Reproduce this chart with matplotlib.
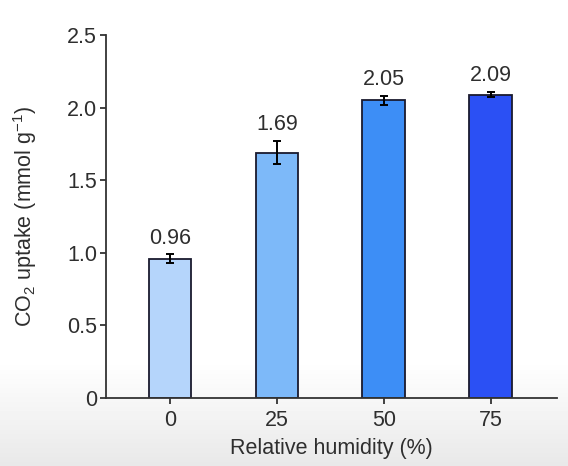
import numpy as np
import matplotlib
matplotlib.use("Agg")
import matplotlib.pyplot as plt

# data
humidity = ["0", "25", "50", "75"]
uptake = [0.96, 1.69, 2.05, 2.09]
uptake_err = [0.03, 0.08, 0.03, 0.02]
bar_colors = ["#b5d5fb", "#7db9f9", "#3d8ef6", "#2b50f4"]

plt.rcParams['font.family'] = ['Liberation Sans', 'DejaVu Sans']
plt.rcParams['mathtext.fontset'] = 'custom'
plt.rcParams['mathtext.rm'] = 'Liberation Sans'
plt.rcParams['mathtext.it'] = 'Liberation Sans'
txt = "#2e2e2e"
fs = 15.5

fig = plt.figure(figsize=(5.68, 4.66), dpi=100)

# screenshot-like soft grey band at the bottom
bg = fig.add_axes([0, 0, 1, 1], zorder=-10)
grad = np.ones((466, 1))
rows = np.arange(466)
fade = np.clip((rows - 360) / 106.0, 0, 1)
grad[:, 0] = 1.0 - 0.09 * fade
bg.imshow(grad, aspect='auto', cmap='gray', vmin=0, vmax=1, extent=[0, 1, 0, 1], origin='upper')
bg.axis('off')

ax = fig.add_axes([106 / 568, 68 / 466, 451 / 568, 363 / 466])
ax.patch.set_alpha(0)

x = np.arange(len(humidity))
ax.bar(x, uptake, width=0.4, color=bar_colors, edgecolor="#1a1a2e", linewidth=1.3, zorder=2)
ax.errorbar(x, uptake, yerr=uptake_err, fmt='none', ecolor='black', elinewidth=1.4,
            capsize=3.2, capthick=1.4, zorder=3)

for xi, v, e in zip(x, uptake, uptake_err):
    ax.annotate(f"{v:.2f}", xy=(xi, v + e), xytext=(0, 4), textcoords='offset points',
                ha='center', va='bottom', fontsize=fs, color=txt)

ax.set_xlim(-0.6, 3.62)
ax.set_ylim(0, 2.5)
ax.set_yticks([0, 0.5, 1.0, 1.5, 2.0, 2.5])
ax.set_yticklabels(["0", "0.5", "1.0", "1.5", "2.0", "2.5"])
ax.set_xticks(x)
ax.set_xticklabels(humidity)

for s in ['top', 'right']:
    ax.spines[s].set_visible(False)
for s in ['left', 'bottom']:
    ax.spines[s].set_color("#333333")
    ax.spines[s].set_linewidth(1.3)
ax.tick_params(axis='both', colors="#333333", labelcolor=txt, labelsize=fs,
               length=4.5, width=1.3)
ax.tick_params(axis='x', pad=4)
ax.tick_params(axis='y', pad=2)

ax.set_xlabel("Relative humidity (%)", fontsize=fs, color=txt, labelpad=5)
ax.set_ylabel(r"CO$_{2}$ uptake (mmol g$^{-1}$)", fontsize=fs, color=txt, labelpad=20)

fig.savefig("out.png", dpi=100)
